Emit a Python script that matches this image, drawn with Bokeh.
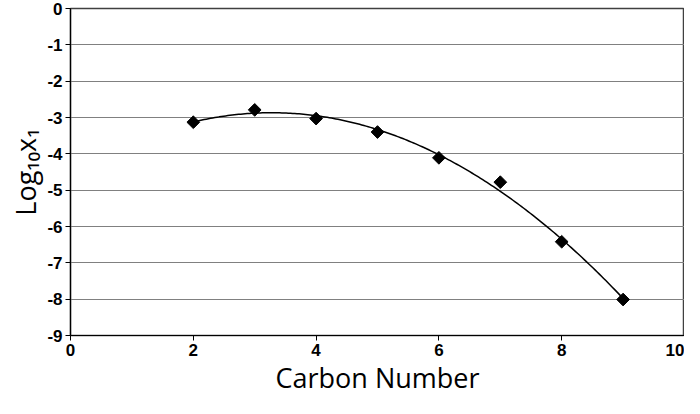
import numpy as np
from bokeh.plotting import figure
from bokeh.models import Range1d, FixedTicker
from bokeh.embed import file_html
from bokeh.resources import INLINE

carbon_number = [2, 3, 4, 5, 6, 7, 8, 9]
log10_x1 = [-3.13, -2.79, -3.03, -3.40, -4.11, -4.78, -6.42, -8.01]
x_ticks = [0, 2, 4, 6, 8, 10]
y_ticks = [0, -1, -2, -3, -4, -5, -6, -7, -8, -9]
y_tick_labels = ["0", "-1", "-2", "-3", "-4", "-5", "-6", "-7", "-8", "-9"]
x_title = "Carbon Number"
y_title = "Log\u2081\u2080x\u2081"

# second-order polynomial trendline fitted to the data
coef = np.polyfit(carbon_number, log10_x1, 2)
fit_x = np.linspace(min(carbon_number), max(carbon_number), 200)
fit_y = np.polyval(coef, fit_x)

p = figure(width=684, height=398, output_backend="svg", toolbar_location=None,
           x_range=Range1d(0, 10), y_range=Range1d(-9, 0),
           min_border_left=70, min_border_right=0, min_border_top=8, min_border_bottom=40)
p.background_fill_color = "white"
p.border_fill_color = "white"
p.outline_line_color = "#404040"
p.outline_line_width = 1.5

p.line(fit_x, fit_y, line_color="black", line_width=1.5)
p.scatter(carbon_number, log10_x1, marker="square", size=9, angle=np.pi / 4,
          fill_color="black", line_color="black")

p.xgrid.grid_line_color = None
p.ygrid.grid_line_color = "#808080"
p.ygrid.grid_line_width = 1.2
p.ygrid.ticker = FixedTicker(ticks=y_ticks)

p.xaxis.ticker = FixedTicker(ticks=x_ticks)
p.yaxis.ticker = FixedTicker(ticks=y_ticks)
p.yaxis.major_label_overrides = {t: lab for t, lab in zip(y_ticks, y_tick_labels)}
for ax in (p.xaxis[0], p.yaxis[0]):
    ax.axis_line_color = "black"
    ax.axis_line_width = 1.2
    ax.major_tick_line_color = "black"
    ax.major_tick_in = 0
    ax.major_tick_out = 5
    ax.minor_tick_line_color = None
    ax.major_label_text_font = "Liberation Sans"
    ax.major_label_text_font_style = "bold"
    ax.major_label_text_font_size = "17px"
    ax.major_label_text_color = "black"
    ax.axis_label_text_font = "Open Sans"
    ax.axis_label_text_font_style = "normal"
    ax.axis_label_text_font_size = "27px"
    ax.axis_label_text_color = "black"
    ax.major_label_standoff = 3
    ax.axis_label_standoff = 0

p.xaxis.axis_label = x_title
p.yaxis.axis_label = y_title

open("out.html", "w").write(file_html(p, INLINE))
